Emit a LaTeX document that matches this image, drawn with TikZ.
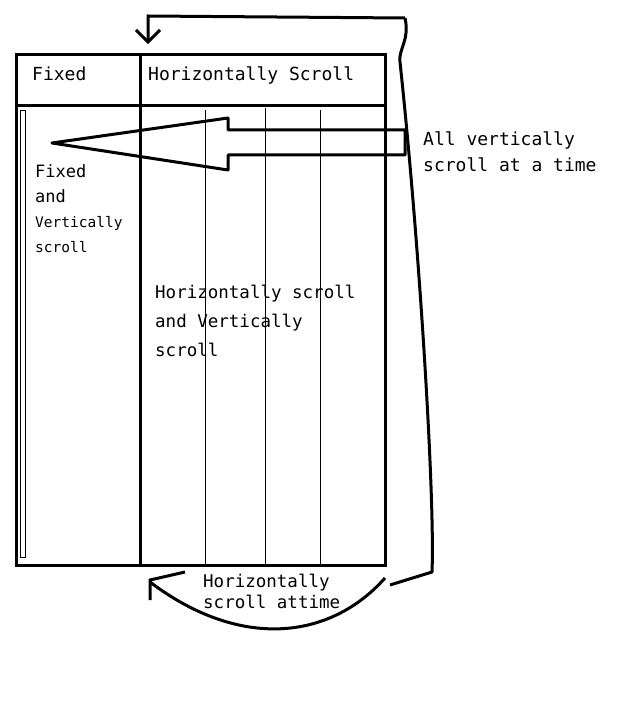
\documentclass[tikz,border=0pt]{standalone}
\usepackage{fontspec}
\setmainfont{DejaVu Sans Mono}
\begin{document}
\begin{tikzpicture}[x=1pt,y=-1pt,
  heavy/.style={line width=3pt},
  thinl/.style={line width=0.6pt},
  lbl/.style={anchor=north west,inner sep=0pt,font=\fontsize{18}{22}\selectfont,align=left}]
\useasboundingbox[fill=white] (0,0) rectangle (626,714);
% table
\draw[heavy] (16,55) rectangle (385,565);
\draw[heavy] (16,106) -- (385,106);
\draw[heavy] (140,55) -- (140,565);
\draw[thinl] (205,110) -- (205,565);
\draw[thinl] (265,108) -- (265,565);
\draw[thinl] (320,110) -- (320,565);
\draw[thinl] (20,110) rectangle (25,557);
% hollow arrow
\draw[heavy,line join=round] (52,143) -- (228,118) -- (228,130) -- (405,130) -- (405,155) -- (228,155) -- (228,170) -- cycle;
% texts
\node[lbl] (t1) at (32,67) {Fixed};
\node[lbl] (t2) at (148,67) {Horizontally Scroll};
\node[lbl,font=\fontsize{17}{25}\selectfont] (t3) at (35,164) {Fixed\\and\\{\fontsize{14.5}{20}\selectfont Vertically}\\{\fontsize{14.5}{20}\selectfont scroll}};
\node[lbl,font=\fontsize{17.5}{29}\selectfont] (t4) at (155,285) {Horizontally scroll\\and Vertically\\scroll};
\node[lbl,font=\fontsize{18}{26}\selectfont] (t5) at (423,132) {All vertically\\scroll at a  time};
\node[lbl,font=\fontsize{17.5}{21}\selectfont] (t6) at (203,574) {Horizontally\\scroll attime};
% top loop arrow
\draw[heavy,line join=round] (405,18) .. controls (410,40) and (398,50) .. (400,62)
  .. controls (420,250) and (435,500) .. (432,572) -- (390,585);
\draw[heavy] (405,18) -- (148,16) -- (148,42);
\draw[heavy] (136,30) -- (148,42) -- (160,30);
% bottom arrow
\draw[heavy] (385,578) .. controls (330,640) and (240,650) .. (150,582);
\draw[heavy] (150,600) -- (150,580) -- (185,572);
\end{tikzpicture}
\end{document}
